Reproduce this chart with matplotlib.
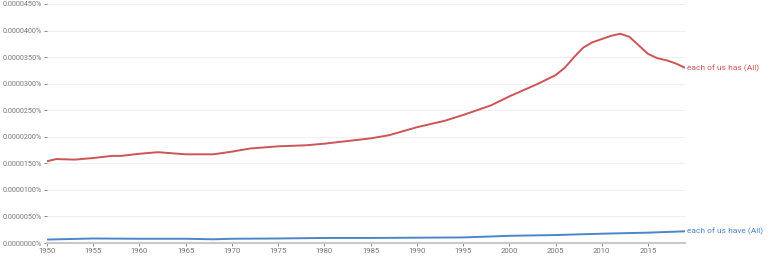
import numpy as np
import matplotlib.pyplot as plt

years_has = [1950, 1951, 1953, 1955, 1957, 1958, 1960, 1962, 1965, 1968, 1970, 1972, 1975,
             1978, 1980, 1982, 1985, 1987, 1990, 1993, 1995, 1998, 2000, 2003, 2005, 2006,
             2007, 2008, 2009, 2010, 2011, 2012, 2013, 2014, 2015, 2016, 2017, 2018, 2019]
has = [15.4, 15.8, 15.7, 16.0, 16.4, 16.4, 16.8, 17.1, 16.7, 16.7, 17.2, 17.8, 18.2,
       18.4, 18.7, 19.1, 19.7, 20.3, 21.8, 23.0, 24.1, 25.9, 27.6, 29.9, 31.6, 33.0,
       35.0, 36.8, 37.8, 38.4, 39.0, 39.4, 38.8, 37.2, 35.6, 34.8, 34.4, 33.8, 33.0]

years_have = [1950, 1955, 1960, 1965, 1968, 1970, 1975, 1980, 1985, 1990, 1995, 2000, 2005, 2010, 2015, 2019]
have = [0.65, 0.85, 0.8, 0.8, 0.7, 0.8, 0.85, 0.95, 0.95, 1.0, 1.05, 1.35, 1.5, 1.75, 1.95, 2.2]

# values are in units of 1e-6 %
has = np.array(has) * 1e-6
have = np.array(have) * 1e-6

red = '#cc5555'
blue = '#4a86c8'
grey = '#757575'

plt.rcParams['font.family'] = ['Roboto', 'DejaVu Sans']

fig = plt.figure(figsize=(7.68, 2.57), dpi=100)
ax = fig.add_axes([47/768, 14/257, (685-47)/768, (243-4)/257])

ax.plot(years_has, has, color=red, lw=1.4)
ax.plot(years_have, have, color=blue, lw=1.4)

ax.set_xlim(1950, 2019)
ax.set_ylim(0, 4.5e-5)
yt = np.arange(0, 4.51e-5, 0.5e-5)
ax.set_yticks(yt)
ax.set_yticklabels([f'{v:.7f}%' for v in yt])
ax.set_xticks(range(1950, 2019, 5))

ax.grid(axis='y', color='#f0f0f0', lw=0.8)
ax.set_axisbelow(True)
for s in ['top', 'right', 'left']:
    ax.spines[s].set_visible(False)
ax.spines['bottom'].set_color('#c8c8c8')
ax.spines['bottom'].set_linewidth(1.5)
ax.tick_params(axis='both', colors=grey, labelsize=5.2, length=2.5, width=0.6, pad=1)
ax.tick_params(axis='x', labelsize=5.6)

ax.text(2019.2, has[-1], 'each of us has (All)', color=red, fontsize=6.0, va='center', ha='left', clip_on=False)
ax.text(2019.2, have[-1], 'each of us have (All)', color=blue, fontsize=6.0, va='center', ha='left', clip_on=False)

fig.savefig('out.png', dpi=100)
